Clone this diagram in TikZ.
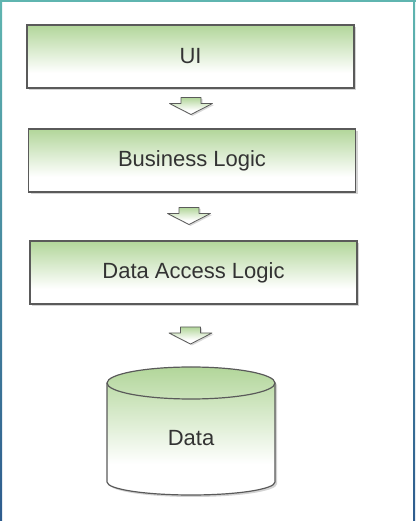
\documentclass[tikz,border=0pt]{standalone}
\usepackage{fontspec}
\setmainfont{Liberation Sans}
\usetikzlibrary{shadows}

\definecolor{boxgreen}{HTML}{B2D69A}
\definecolor{boxline}{HTML}{5A5A5A}
\definecolor{textgray}{HTML}{333333}
\definecolor{frameteal}{HTML}{5FB5B0}
\definecolor{frameblue}{HTML}{2E5C8E}

\pgfdeclareverticalshading{boxfade}{100bp}{color(0bp)=(white); color(37bp)=(white); color(75bp)=(boxgreen); color(100bp)=(boxgreen)}

\tikzset{
  blockarrow/.style={draw=boxline, line width=.8pt, line join=round, shading=boxfade,
    drop shadow={shadow xshift=1.5pt, shadow yshift=-1.5pt, opacity=.3}}
}

\begin{document}
\begin{tikzpicture}[x=1pt,y=1pt]
        \useasboundingbox (0,0) rectangle (416,521);

        % frame
        \fill[frameteal] (0,519) rectangle (416,521);
        \shade[top color=frameteal, bottom color=frameblue] (0,0) rectangle (2,521);
        \shade[top color=frameteal, bottom color=frameblue] (413,0) rectangle (415,521);

        \begin{scope}[every node/.style={draw=boxline, line width=1.2pt, shading=boxfade,
            drop shadow={shadow xshift=2pt, shadow yshift=-2pt, opacity=.35},
            minimum width=327pt, minimum height=63pt, inner sep=0pt,
            text=textgray, font=\fontsize{22}{26}\selectfont}]
          \node (1) at (190.5,464.5) {UI};
          \node (2) at (192,360.5)   {Business Logic};
          \node (3) at (193.5,248.5) {Data Access Logic};
        \end{scope}

        % data store
        \path[draw=boxline, line width=1.2pt, shading=boxfade,
            drop shadow={shadow xshift=2pt, shadow yshift=-2pt, opacity=.35}]
          (107,138) -- (107,39) arc[start angle=180, end angle=360, x radius=84, y radius=13]
          -- (275,138) arc[start angle=0, end angle=180, x radius=84, y radius=16] -- cycle;
        \draw[boxline, line width=1.2pt] (107,138) arc[start angle=180, end angle=360, x radius=84, y radius=16];
        \node[text=textgray, font=\fontsize{22}{26}\selectfont] (4) at (191,83) {Data};

        % block arrows
        \coordinate (a1) at (191,415);
        \coordinate (a2) at (189,305);
        \coordinate (a3) at (190.5,185.5);
        \path[blockarrow, shift={(a1)}] (-10,8.5) -- (10,8.5) -- (10,2.5) -- (21.5,2.5) -- (0,-8.5) -- (-21.5,2.5) -- (-10,2.5) -- cycle;
        \path[blockarrow, shift={(a2)}] (-10,8.5) -- (10,8.5) -- (10,2.5) -- (21.5,2.5) -- (0,-8.5) -- (-21.5,2.5) -- (-10,2.5) -- cycle;
        \path[blockarrow, shift={(a3)}] (-10,8.5) -- (10,8.5) -- (10,2.5) -- (21.5,2.5) -- (0,-8.5) -- (-21.5,2.5) -- (-10,2.5) -- cycle;

      \end{tikzpicture}
\end{document}
